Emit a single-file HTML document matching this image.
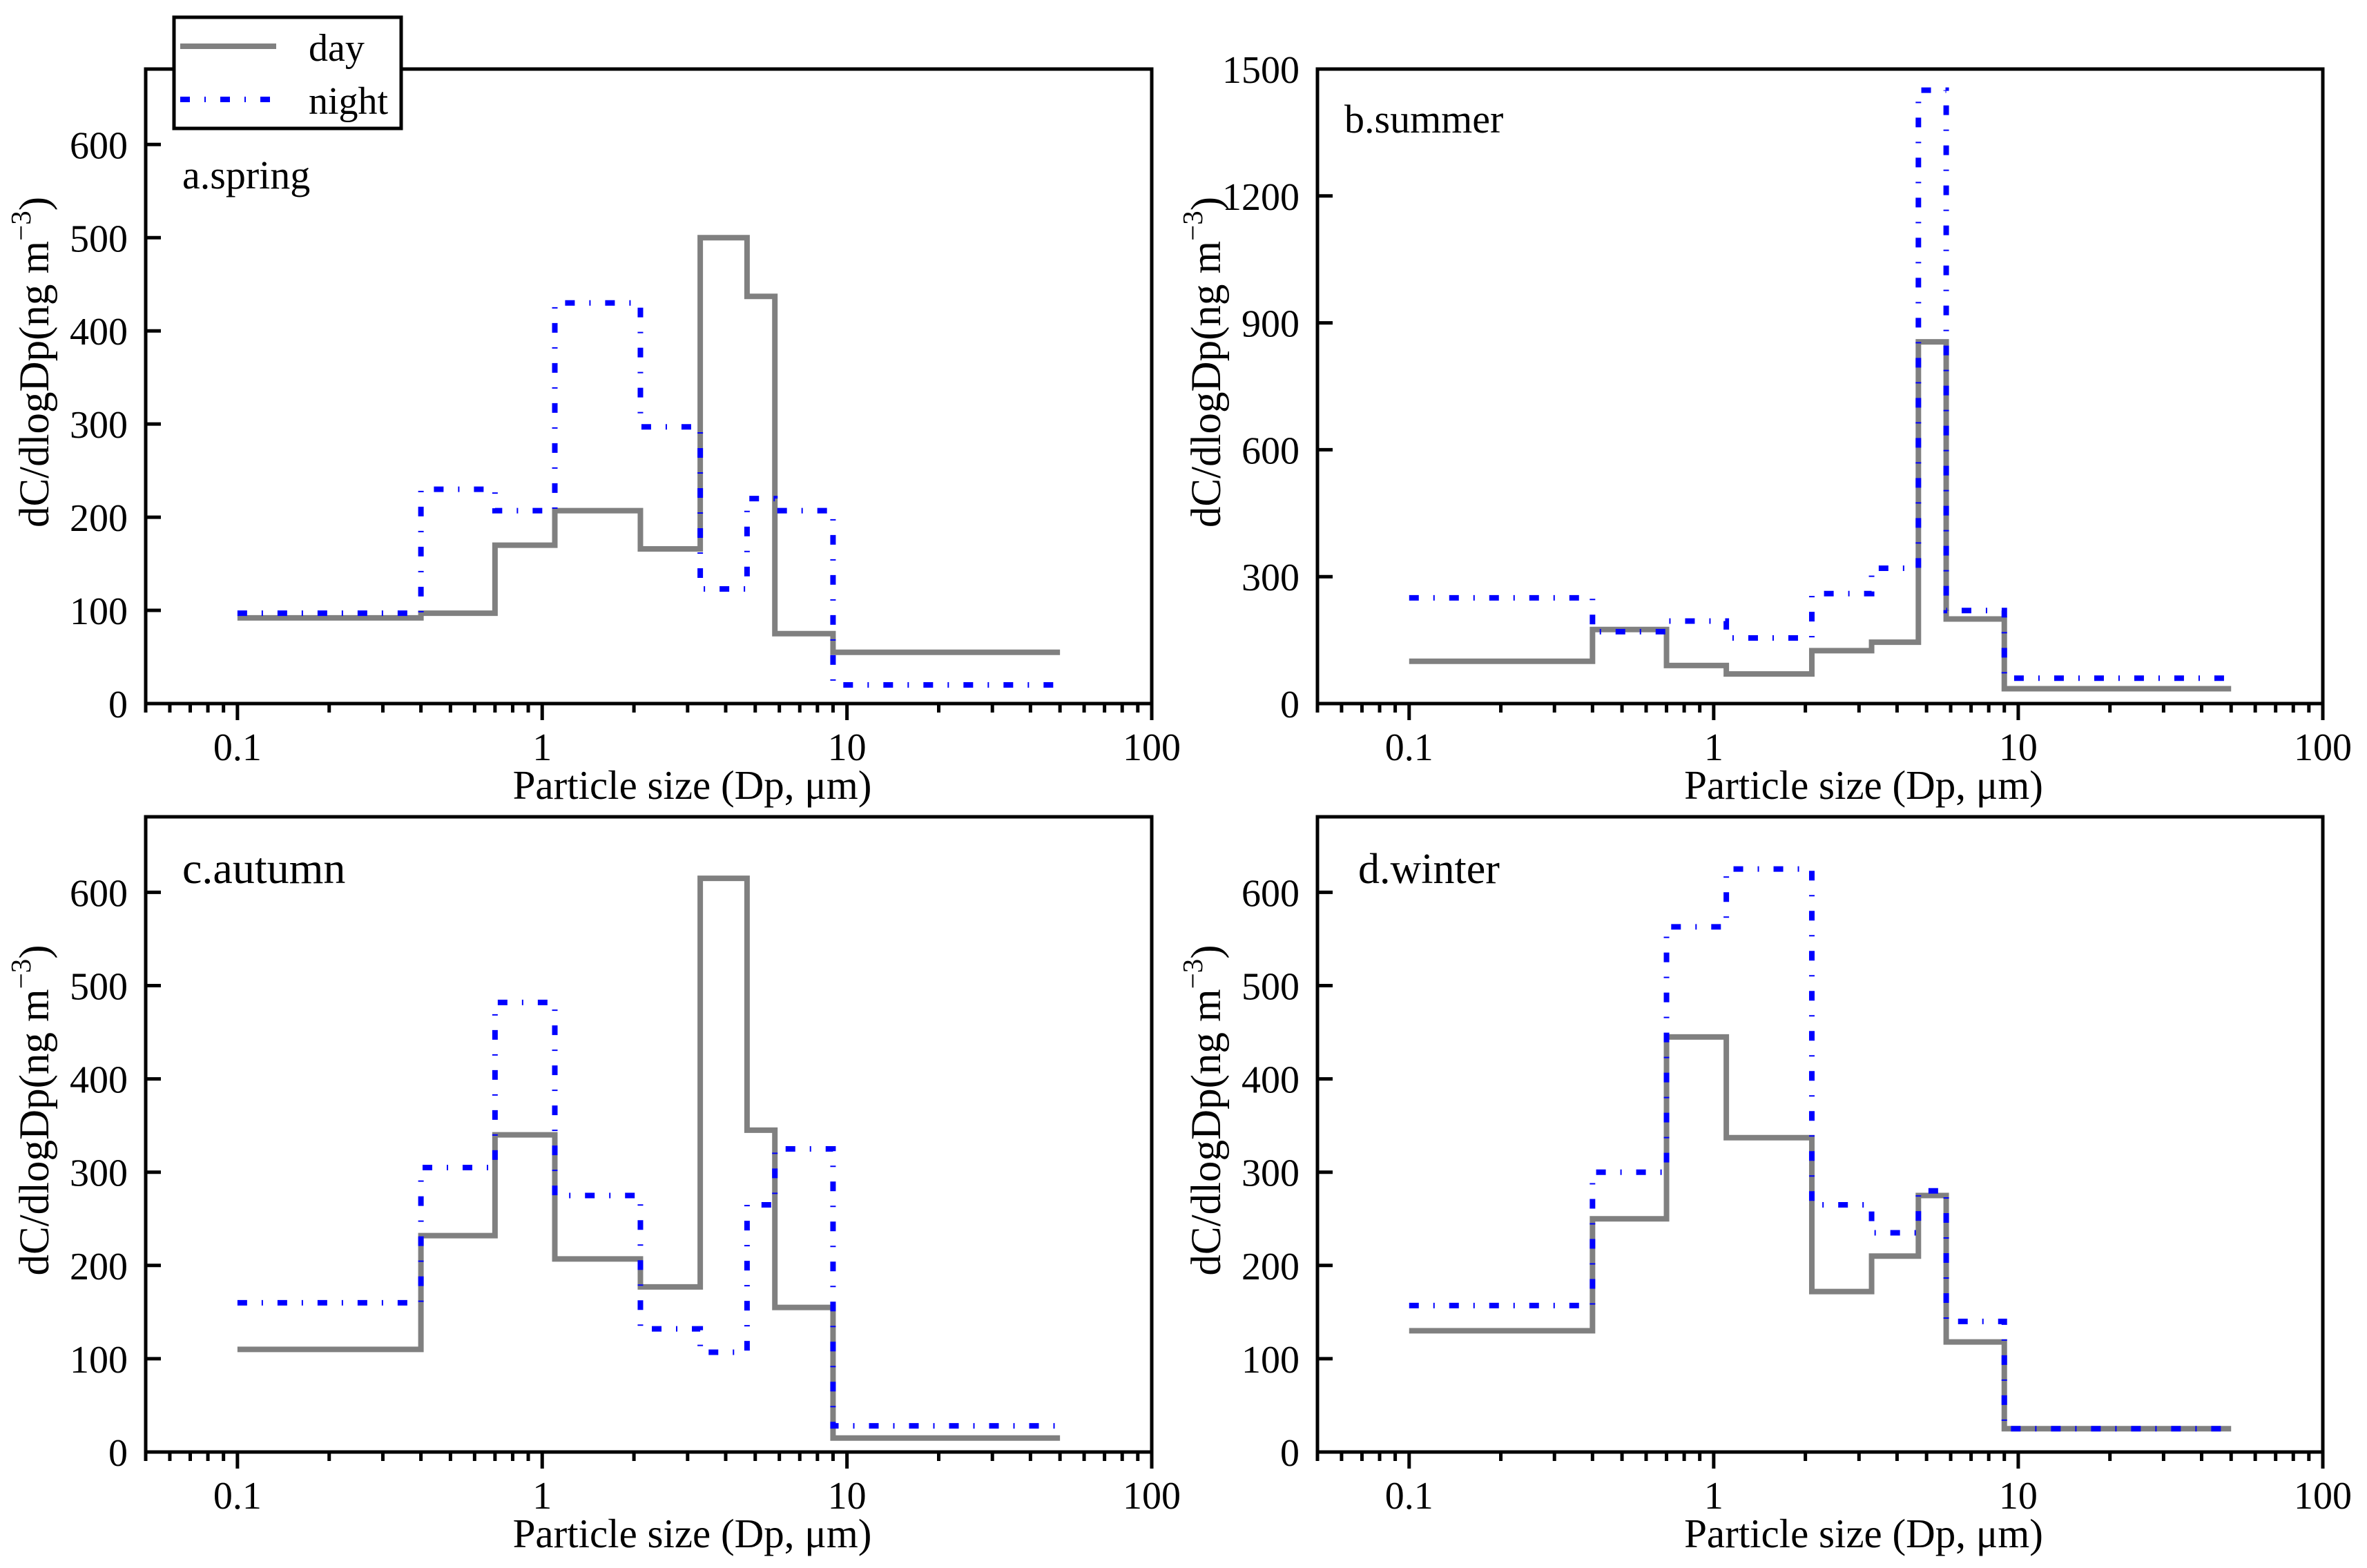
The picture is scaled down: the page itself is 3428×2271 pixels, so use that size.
<!DOCTYPE html>
<html><head><meta charset="utf-8"><style>
html,body{margin:0;padding:0;background:#fff}
svg{display:block;font-family:"Liberation Serif","DejaVu Serif",serif}
</style></head><body>
<svg id="fig" width="3428" height="2271" viewBox="0 0 3428 2271" xmlns="http://www.w3.org/2000/svg"></svg>
<script>
const binEdges = [0.1, 0.4, 0.7, 1.1, 2.1, 3.3, 4.7, 5.8, 9.0, 50];
const springDay = [92, 97, 170, 207, 166, 500, 437, 75, 55];
const springNight = [97, 230, 207, 430, 297, 123, 220, 207, 20];
const summerDay = [100, 175, 90, 70, 125, 145, 855, 200, 35];
const summerNight = [250, 170, 195, 155, 260, 320, 1450, 220, 60];
const autumnDay = [110, 232, 340, 207, 177, 615, 345, 155, 15];
const autumnNight = [160, 305, 482, 275, 132, 107, 265, 325, 28];
const winterDay = [130, 250, 445, 337, 172, 210, 275, 118, 25];
const winterNight = [157, 300, 563, 625, 265, 235, 280, 140, 25];
const xTickLabels = ["0.1", "1", "10", "100"];
const xTickValues = [0.1, 1, 10, 100];
const yTicksSmall = [0, 100, 200, 300, 400, 500, 600];
const yTicksSummer = [0, 300, 600, 900, 1200, 1500];

const NS = "http://www.w3.org/2000/svg";
const svg = document.getElementById('fig');
function mk(tag, attrs, parent){
  const e = document.createElementNS(NS, tag);
  for (const k in attrs) e.setAttribute(k, attrs[k]);
  (parent||svg).appendChild(e);
  return e;
}
const XMIN = 0.05, XMAX = 100;
const panels = [
  {key:'spring', label:'a.spring', x0:211, x1:1668, y0:100, y1:1019, ymax:681, yt:yTicksSmall, day:springDay, night:springNight, lx:264, ly:273, lf:58},
  {key:'summer', label:'b.summer', x0:1908, x1:3364, y0:100, y1:1019, ymax:1500, yt:yTicksSummer, day:summerDay, night:summerNight, lx:1947, ly:192, lf:58},
  {key:'autumn', label:'c.autumn', x0:211, x1:1668, y0:1183, y1:2103, ymax:681, yt:yTicksSmall, day:autumnDay, night:autumnNight, lx:264, ly:1279, lf:64},
  {key:'winter', label:'d.winter', x0:1908, x1:3364, y0:1183, y1:2103, ymax:681, yt:yTicksSmall, day:winterDay, night:winterNight, lx:1967, ly:1279, lf:62}
];
panels.forEach(p => {
  const g = mk('g', {});
  
  
  const xs = v => p.x0 + (Math.log10(v) - Math.log10(XMIN)) / (Math.log10(XMAX) - Math.log10(XMIN)) * (p.x1 - p.x0);
  const ys = v => p.y1 - v / p.ymax * (p.y1 - p.y0);
  function stepPath(vals){
    let d = 'M' + xs(binEdges[0]) + ' ' + ys(vals[0]);
    for (let i = 0; i < vals.length; i++){
      if (i > 0) d += ' L' + xs(binEdges[i]) + ' ' + ys(vals[i]);
      d += ' L' + xs(binEdges[i+1]) + ' ' + ys(vals[i]);
    }
    return d;
  }
  const dl = mk('path', {d:stepPath(p.day), fill:'none', stroke:'#808080', 'stroke-width':8}, g);
  
  
  const nl = mk('path', {d:stepPath(p.night), fill:'none', stroke:'#0000ff', 'stroke-width':8, 'stroke-dasharray':'14 21 2 21'}, g);
  
  
  const fr = mk('rect', {x:p.x0, y:p.y0, width:p.x1-p.x0, height:p.y1-p.y0, fill:'none', stroke:'#000', 'stroke-width':5}, g);
  
  
  for (let e = -2; e <= 1; e++){
    for (let m = 1; m <= 9; m++){
      const v = m * Math.pow(10, e);
      if (v < XMIN - 1e-9 || v > XMAX + 1e-9) continue;
      const X = xs(v);
      mk('line', {x1:X, x2:X, y1:p.y1, y2:p.y1 + (m === 1 ? 24 : 13), stroke:'#000', 'stroke-width':5}, g);
    }
  }
  mk('line', {x1:xs(100), x2:xs(100), y1:p.y1, y2:p.y1+24, stroke:'#000', 'stroke-width':5}, g);
  xTickValues.forEach((v, i) => {
    const t = mk('text', {x:xs(v), y:p.y1 + 82, 'text-anchor':'middle', 'font-size':56}, g);
    t.textContent = xTickLabels[i];
    
    
  });
  p.yt.forEach(v => {
    const Y = ys(v);
    mk('line', {x1:p.x0, x2:p.x0 + 22, y1:Y, y2:Y, stroke:'#000', 'stroke-width':5}, g);
    const t = mk('text', {x:p.x0 - 26, y:Y + 20, 'text-anchor':'end', 'font-size':56}, g);
    t.textContent = v;
    
    
  });
  const xt = mk('text', {x:(p.x0+p.x1)/2 + 63, y:p.y1 + 138, 'text-anchor':'middle', 'font-size':59}, g);
  xt.textContent = 'Particle size (Dp, μm)';
  
  
  const cy = (p.y0 + p.y1) / 2 - 35, cx = p.x0 - 141;
  const yt = mk('text', {x:cx, y:cy, 'text-anchor':'middle', 'font-size':61, transform:'rotate(-90 ' + cx + ' ' + cy + ')'}, g);
  
  
  const t1 = mk('tspan', {}, yt); t1.textContent = 'dC/dlogDp(ng m';
  const t2 = mk('tspan', {dy:-26, 'font-size':41}, yt); t2.textContent = '−3';
  const t3 = mk('tspan', {dy:26}, yt); t3.textContent = ')';
  const pl = mk('text', {x:p.lx, y:p.ly, 'font-size':p.lf}, g);
  pl.textContent = p.label;
  
  
});
const lg = mk('g', {});


mk('rect', {x:252, y:25, width:329, height:161, fill:'#fff', stroke:'#000', 'stroke-width':5}, lg);
mk('line', {x1:261, x2:400, y1:67, y2:67, stroke:'#808080', 'stroke-width':8}, lg);
mk('line', {x1:261, x2:400, y1:144, y2:144, stroke:'#0000ff', 'stroke-width':8, 'stroke-dasharray':'14 21 2 21'}, lg);
const ld = mk('text', {x:447, y:88, 'font-size':56}, lg); ld.textContent = 'day';


const ln = mk('text', {x:447, y:165, 'font-size':56}, lg); ln.textContent = 'night';


</script>
</body></html>
